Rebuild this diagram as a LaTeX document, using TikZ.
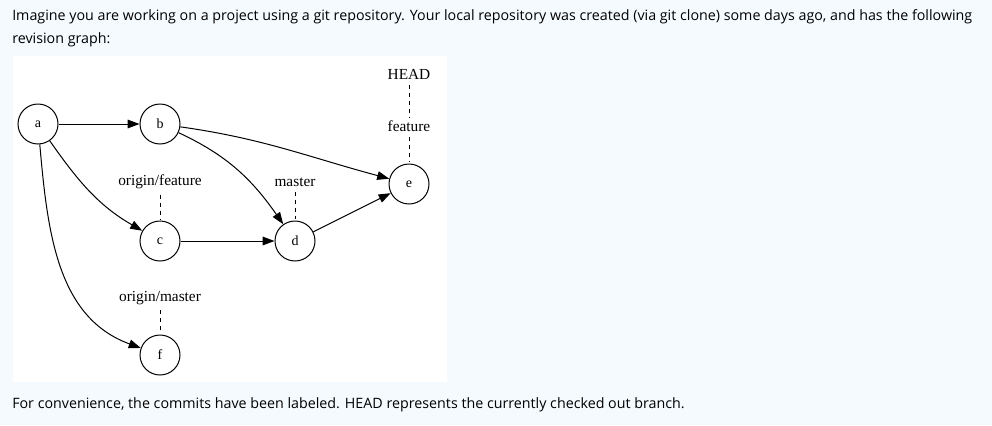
\documentclass[tikz,border=0pt]{standalone}
\usepackage{fontspec}
\setmainfont{Liberation Serif}
\newfontfamily\uifont{Open Sans}
\usetikzlibrary{arrows.meta}
\begin{document}
\begin{tikzpicture}[x=0.75pt,y=-0.75pt,
  commit/.style={draw,circle,minimum size=30pt,inner sep=0pt,line width=0.75pt,fill=white,font=\fontsize{10.5}{12}\selectfont},
  lbl/.style={inner sep=1pt,font=\fontsize{11.5}{13}\selectfont},
  edge/.style={line width=0.75pt,-{Triangle[length=9pt,width=6.5pt]}},
  ref/.style={dashed,line width=0.75pt,shorten <=3pt,shorten >=1pt},
  ui/.style={anchor=west,inner sep=0pt,font=\uifont\fontsize{10.7}{12}\selectfont}]
\fill[fill={rgb,255:red,245;green,250;blue,254}] (0,0) rectangle (992,425);
\useasboundingbox (0,0) rectangle (992,425);
\fill[white] (13,56) rectangle (447,382);
\node[ui] (t1) at (12,17) {Imagine you are working on a project using a git repository. Your local repository was created (via git clone) some days ago, and has the following};
\node[ui] (t2) at (12,40) {revision graph:};
\node[ui] (t3) at (12,405) {For convenience, the commits have been labeled. HEAD represents the currently checked out branch.};
\node[commit] (a) at (38,124) {a};
\node[commit] (b) at (160,124) {b};
\node[commit] (c) at (160,241) {c};
\node[commit] (d) at (295,241) {d};
\node[commit] (e) at (409,184) {e};
\node[commit] (f) at (160,355) {f};
\node[lbl] (head) at (409,74) {HEAD};
\node[lbl] (feat) at (409,126) {feature};
\node[lbl] (ofeat) at (160,182) {origin/feature};
\node[lbl] (mast) at (295,182) {master};
\node[lbl] (omast) at (160,298) {origin/master};
\draw[ref] (head.south) -- (feat.north);
\draw[ref] (feat.south) -- (e.north);
\draw[ref] (ofeat.south) -- (c.north);
\draw[ref] (mast.south) -- (d.north);
\draw[ref] (omast.south) -- (f.north);
\draw[edge] (a) -- (b);
\draw[edge] (c) -- (d);
\draw[edge] (d) -- (e);
\draw[edge] (a) to[out=-55,in=150] (c);
\draw[edge] (a) to[out=-85,in=160] (f);
\draw[edge] (b) to[out=-25,in=125] (d);
\draw[edge] (b) to[out=-8,in=165] (e);
\end{tikzpicture}
\end{document}
